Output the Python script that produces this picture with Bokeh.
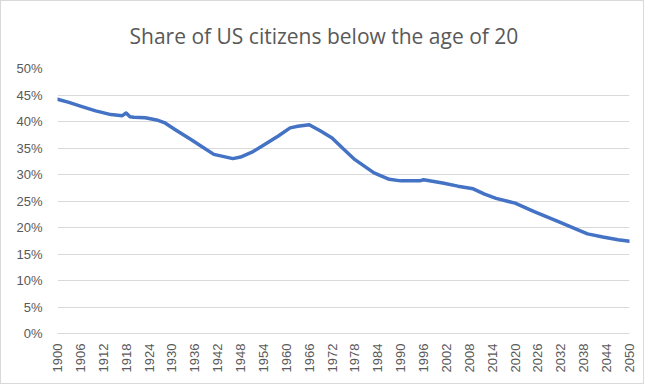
from bokeh.plotting import figure
from bokeh.models import FixedTicker, NumeralTickFormatter, Range1d, ColumnDataSource
from bokeh.embed import file_html
from bokeh.resources import INLINE
import math

title_text = "Share of US citizens below the age of 20"

years = [1900, 1903, 1906, 1910, 1914, 1917, 1918, 1919, 1920, 1923, 1926, 1928,
         1931, 1935, 1938, 1941, 1946, 1948, 1951, 1954, 1958, 1961, 1963, 1966,
         1969, 1972, 1975, 1978, 1983, 1987, 1990, 1995, 1996, 2001, 2005, 2009,
         2012, 2015, 2020, 2025, 2032, 2036, 2039, 2043, 2047, 2050]
share_pct = [44.2, 43.6, 42.9, 42.0, 41.3, 41.1, 41.6, 40.9, 40.8, 40.7, 40.3, 39.8,
             38.4, 36.6, 35.2, 33.8, 33.0, 33.3, 34.2, 35.5, 37.3, 38.8, 39.1, 39.4,
             38.2, 36.9, 34.8, 32.8, 30.3, 29.1, 28.8, 28.8, 29.0, 28.4, 27.8, 27.3,
             26.3, 25.5, 24.6, 23.0, 20.9, 19.7, 18.8, 18.2, 17.7, 17.4]

x_ticks = list(range(1900, 2051, 6))
y_ticks = [0, 0.05, 0.10, 0.15, 0.20, 0.25, 0.30, 0.35, 0.40, 0.45, 0.50]

source = ColumnDataSource(data=dict(year=years, share=[v / 100 for v in share_pct]))

p = figure(width=644, height=384, output_backend="svg", toolbar_location=None,
           x_range=Range1d(1900, 2050), y_range=Range1d(0, 0.5),
           min_border_left=56, min_border_right=16, min_border_top=65, min_border_bottom=52)

p.styles = {"border": "1px solid #d9d9d9"}

p.title.text = title_text
p.title.align = "left"
p.title.text_font = "Open Sans"
p.title.text_font_size = "21px"
p.title.text_font_style = "normal"
p.title.text_color = "#595959"
p.title.offset = 72
p.title.standoff = 37

p.outline_line_color = None

p.line("year", "share", source=source, line_color="#4472C4", line_width=3.5,
       line_join="round", line_cap="round")

p.xgrid.grid_line_color = None
p.ygrid.grid_line_color = "#d9d9d9"
p.ygrid.grid_line_width = 1

p.yaxis.ticker = FixedTicker(ticks=y_ticks)
p.yaxis.formatter = NumeralTickFormatter(format="0%")
p.yaxis.axis_line_color = None
p.yaxis.major_tick_line_color = None
p.yaxis.minor_tick_line_color = None
p.yaxis.major_tick_out = 0
p.yaxis.major_label_standoff = 15
p.yaxis.major_label_text_font = "Liberation Sans"
p.yaxis.major_label_text_font_size = "13px"
p.yaxis.major_label_text_color = "#595959"

p.xaxis.ticker = FixedTicker(ticks=x_ticks)
p.xaxis.axis_line_color = "#d9d9d9"
p.xaxis.major_tick_line_color = None
p.xaxis.minor_tick_line_color = None
p.xaxis.major_tick_out = 0
p.xaxis.major_label_standoff = 10
p.xaxis.major_label_orientation = math.pi / 2
p.xaxis.major_label_text_font = "Liberation Sans"
p.xaxis.major_label_text_font_size = "13px"
p.xaxis.major_label_text_color = "#595959"

open("out.html", "w").write(file_html(p, INLINE))
